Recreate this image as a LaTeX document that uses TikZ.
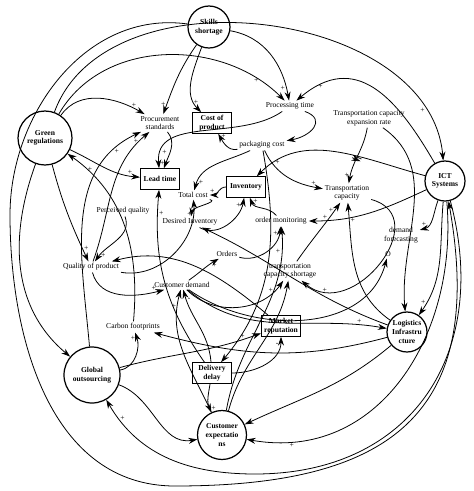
\documentclass[tikz,border=0pt]{standalone}
\usepackage{fontspec}
\setmainfont{Liberation Serif}
\usetikzlibrary{arrows.meta,decorations.markings}
\newcommand\fs{\fontsize{4.3}{4.9}\selectfont}
\tikzset{
factor/.style={font=\fs, inner sep=1pt, align=center},
keybox/.style={draw, line width=0.6pt, font=\fs\bfseries, inner sep=1pt, align=center, minimum width=0.78cm, minimum height=0.41cm},
driver/.style={circle, draw, line width=0.7pt, font=\fs\bfseries, align=center, inner sep=0pt, minimum size=#1},
driver/.default=0.84cm,
link/.style={-{Stealth[length=5pt,width=3.4pt]}, line width=0.45pt},
pl/.style={font=\fs, inner sep=0.6pt, pos=0.88},
delaymark/.style={postaction=decorate,decoration={markings, mark=at position #1 with {\draw[line width=0.4pt] (-0.6pt,-2.6pt)--(-0.6pt,2.6pt) (0.8pt,-2.6pt)--(0.8pt,2.6pt);}}},
}

\begin{document}
\begin{tikzpicture}[x=0.02cm,y=0.02cm]
    \useasboundingbox (0,0) rectangle (474,-491);

    % drivers
    \node[driver] (skills) at (209,-27) {Skills\\shortage};
    \node[driver=1.08cm] (green) at (45,-138) {Green\\regulations};
    \node[driver=0.8cm] (ict) at (445,-181) {ICT\\Systems};
    \node[driver=0.8cm] (logistics) at (407,-332) {Logistics\\Infrastru\\cture};
    \node[driver=1.12cm] (outsourcing) at (92,-375) {Global\\outsourcing};
    \node[driver=0.98cm] (custexp) at (222,-435) {Customer\\expectatio\\ns};

    % key variables
    \node[keybox] (costprod) at (212,-123) {Cost of\\product};
    \node[keybox] (leadtime) at (160,-179) {Lead time};
    \node[keybox] (inventory) at (246,-187) {Inventory};
    \node[keybox] (reputation) at (281,-326) {Market\\reputation};
    \node[keybox] (delay) at (212,-373) {Delivery\\delay};

    % other factors
    \node[factor] (procurement) at (160,-123) {Procurement\\standards};
    \node[factor] (proctime) at (290,-106) {Processing time};
    \node[factor] (expansion) at (369,-118) {Transportation capacity\\expansion rate};
    \node[factor] (packaging) at (262,-145) {packaging cost};
    \node[factor] (totalcost) at (193,-195) {Total cost};
    \node[factor] (transcap) at (347,-193) {Transportation\\capacity};
    \node[factor] (perceived) at (123,-211) {Perceived quality};
    \node[factor] (desinv) at (190,-222) {Desired Inventory};
    \node[factor] (ordermon) at (281,-221) {order monitoring};
    \node[factor] (forecast) at (401,-235) {demand\\forecasting};
    \node[factor] (omark) at (388,-254) {O};
    \node[factor] (orders) at (227,-254) {Orders};
    \node[factor] (quality) at (91,-267) {Quality of product};
    \node[factor] (shortage) at (290,-271) {transportation\\capacity shortage};
    \node[factor] (custdemand) at (182,-285) {Customer demand};
    \node[factor] (carbon) at (133,-327) {Carbon footprints};

    \coordinate (oA1) at (10,-215);
    \coordinate (oA2) at (175,-486);
    \coordinate (oB1) at (255,-474);

    % outer loops
    \draw[link] (skills) to[out=172,in=90] (oA1) to[out=-90,in=180] (oA2)
        to[out=0,in=-80,looseness=1.4] (ict);
    \draw[link] (ict) to[out=-75,in=0,looseness=1.2] (oB1)
        to[out=180,in=-60] node[pl,right]{+} (outsourcing);
    \path (green) edge[link,out=70,in=95] node[pl,left]{+} (ict);
    \path (green) edge[link,out=60,in=135] node[pl,left]{+} (proctime);
    \path (ict) edge[link,out=-85,in=-10,looseness=1.1] node[pl,below]{+} (custexp);

    % skills shortage
    \path (skills) edge[link,out=235,in=70] node[pl,left]{+} (procurement)
        edge[link,out=-10,in=100] node[pl,left]{+} (proctime)
        edge[link,out=250,in=135] node[pl,above]{+} (costprod);

    % green regulations
    \path (green) edge[link,out=55,in=150] node[pl,above]{+} (procurement)
        edge[link,out=-25,in=175] node[pl,above]{+} (leadtime)
        edge[link,out=-75,in=115] node[pl,right]{+} (quality)
        edge[link,out=-110,in=140] (outsourcing);
    \path (carbon) edge[link,out=85,in=-35] node[pl,right]{+} (green);

    % procurement, cost and lead time
    \path (outsourcing) edge[link,out=95,in=205] node[pl,below]{+} (procurement);
    \path (quality) edge[link,out=70,in=220] node[pl,above]{+} (procurement);
    \path (procurement) edge[link,out=-50,in=70] node[pl,left]{+} (leadtime);
    \path (proctime) edge[link,out=215,in=95] node[pl,right]{+} (leadtime)
        edge[link,out=-20,in=10,looseness=1.8] (packaging);
    \path (ict) edge[link,out=120,in=40,looseness=1.3] node[pl,right]{+} (proctime)
        edge[link,out=165,in=45] node[pl,right]{+} (inventory);
    \path (packaging) edge[link,out=190,in=-60] node[pl,right]{+} (costprod)
        edge[link,out=205,in=75] node[pl,right]{+} (totalcost)
        edge[link,out=-65,in=170] node[pl,above]{+} (transcap)
        edge[link,out=-80,in=50] (delay);
    \path (delay) edge[link,out=125,in=-95] node[pl,right]{+} (leadtime);

    % inventory loop
    \path (inventory) edge[link,out=180,in=0] node[pl,above]{+} (totalcost);
    \path (totalcost) edge[link,out=-15,in=80] node[pl,left]{-} (desinv);
    \path (desinv) edge[link,out=-30,in=-100] node[pl,left]{+} (inventory);
    \path (ordermon) edge[link,out=130,in=-70] node[pl,right]{+} (inventory);
    \path (ict) edge[link,out=205,in=0] node[pl,above]{+} (ordermon)
        edge[link,out=250,in=15] node[pl,above]{+} (forecast);
    \path (logistics) edge[link,out=160,in=-25] (desinv);
    \path (quality) edge[link,out=-10,in=-85] node[pl,left]{+} (totalcost);

    % transportation
    \draw[link,delaymark=0.55] (expansion) to[out=-100,in=80] node[pl,left]{+} (transcap);
    \path (expansion) edge[link,out=-35,in=95] (logistics);
    \path (transcap) edge[link,out=-15,in=-40,looseness=1.6] node[pl,right]{+} (shortage);
    \path (shortage) edge[link,out=55,in=235] node[pl,left]{+} (transcap);
    \path (logistics) edge[link,out=145,in=-85] node[pl,right]{+} (transcap);
    \path (ict) edge[link,out=-95,in=55] node[pl,left]{+} (logistics);

    % demand side
    \path (custdemand) edge[link,out=35,in=210] node[pl,below]{+} (orders)
        edge[link,out=-45,in=235] node[pl,left]{+} (shortage)
        edge[link,out=-35,in=-105] (omark)
        edge[link,out=-40,in=170] node[pl,above]{+} (logistics);
    \path (orders) edge[link,out=-15,in=-95] node[pl,left]{+} (ordermon);
    \path (quality) edge[link,out=-75,in=195] node[pl,above]{+} (custdemand);
    \path (perceived) edge[link,out=-70,in=55] node[pl,right]{+} (quality);
    \path (reputation) edge[link,out=140,in=15] (quality);

    % delivery delay and reputation
    \path (delay) edge[link,out=-100,in=115] node[pl,right]{+} (custexp)
        edge[link,out=95,in=-75] node[pl,right]{-} (custdemand)
        edge[link,out=0,in=-90] node[pl,left]{-} (reputation);
    \path (outsourcing) edge[link,out=15,in=200] node[pl,above]{+} (reputation)
        edge[link,out=10,in=-70] node[pl,left]{+} (carbon)
        edge[link,out=-20,in=190] (custexp);
    \path (logistics) edge[link,out=195,in=-15] (carbon)
        edge[link,out=220,in=25] (custexp);
    \path (custexp) edge[link,out=115,in=-105] node[pl,left]{+} (custdemand)
        edge[link,out=75,in=-100] (shortage)
        edge[link,out=80,in=-85] node[pl,left]{+} (ordermon);
\end{tikzpicture}
\end{document}
